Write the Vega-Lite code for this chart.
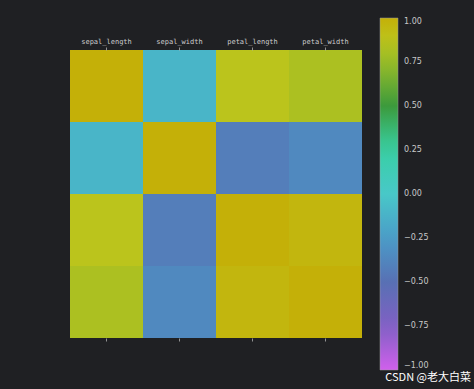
{
  "$schema": "https://vega.github.io/schema/vega-lite/v6.json",
  "width": 292,
  "height": 288,
  "autosize": {"type": "none"},
  "padding": {"left": 70, "top": 50, "right": 112, "bottom": 51},
  "background": "#1f2023",
  "config": {
    "view": {"stroke": null},
    "axis": {
      "labelFont": "DejaVu Sans Mono",
      "labelFontSize": 7,
      "labelColor": "#cccccc",
      "tickColor": "#b0b0b0",
      "tickSize": 3,
      "tickWidth": 0.8,
      "domain": false,
      "grid": false,
      "title": null,
      "labelAngle": 0,
      "labelPadding": 3
    }
  },
  "title": {
    "text": "CSDN @老大白菜",
    "orient": "bottom",
    "anchor": "end",
    "frame": "group",
    "dx": 109,
    "offset": 1,
    "baseline": "top",
    "color": "#ffffff",
    "fontSize": 11,
    "fontWeight": "normal",
    "font": "Noto Sans CJK SC"
  },
  "data": {
    "values": [
      {"row": "sepal_length", "col": "sepal_length", "value": 1.0},
      {"row": "sepal_length", "col": "sepal_width", "value": -0.109},
      {"row": "sepal_length", "col": "petal_length", "value": 0.872},
      {"row": "sepal_length", "col": "petal_width", "value": 0.818},
      {"row": "sepal_width", "col": "sepal_length", "value": -0.109},
      {"row": "sepal_width", "col": "sepal_width", "value": 1.0},
      {"row": "sepal_width", "col": "petal_length", "value": -0.421},
      {"row": "sepal_width", "col": "petal_width", "value": -0.357},
      {"row": "petal_length", "col": "sepal_length", "value": 0.872},
      {"row": "petal_length", "col": "sepal_width", "value": -0.421},
      {"row": "petal_length", "col": "petal_length", "value": 1.0},
      {"row": "petal_length", "col": "petal_width", "value": 0.963},
      {"row": "petal_width", "col": "sepal_length", "value": 0.818},
      {"row": "petal_width", "col": "sepal_width", "value": -0.357},
      {"row": "petal_width", "col": "petal_length", "value": 0.963},
      {"row": "petal_width", "col": "petal_width", "value": 1.0}
    ]
  },
  "layer": [
    {
      "mark": {"type": "rect", "strokeWidth": 0},
      "encoding": {
        "x": {
          "field": "col",
          "type": "nominal",
          "sort": ["sepal_length", "sepal_width", "petal_length", "petal_width"],
          "scale": {"paddingInner": 0, "paddingOuter": 0},
          "axis": {"orient": "top"}
        },
        "y": {
          "field": "row",
          "type": "nominal",
          "sort": ["sepal_length", "sepal_width", "petal_length", "petal_width"],
          "scale": {"paddingInner": 0, "paddingOuter": 0},
          "axis": {"orient": "left"}
        },
        "color": {
          "field": "value",
          "type": "quantitative",
          "scale": {
            "interpolate": "rgb",
            "domain": [-1, -0.75, -0.5, -0.25, 0, 0.25, 0.5, 0.75, 0.875, 1],
            "range": ["#d060ec", "#8060c4", "#5870b4", "#4a9cc8", "#48c8c8", "#38d0a4", "#3c9a3c", "#98bc28", "#bcc41c", "#c4b008"]
          },
          "legend": {
            "orient": "none",
            "legendX": 310,
            "legendY": -32,
            "direction": "vertical",
            "gradientLength": 352,
            "gradientThickness": 18,
            "gradientStrokeColor": "#9a9a9a",
            "gradientStrokeWidth": 0.5,
            "title": null,
            "values": [-1, -0.75, -0.5, -0.25, 0, 0.25, 0.5, 0.75, 1],
            "format": ".2f",
            "labelColor": "#c8c8c8",
            "labelFontSize": 8,
            "labelFont": "DejaVu Sans",
            "labelOffset": 6,
            "labelOverlap": false
          }
        }
      }
    },
    {
      "mark": {"type": "rect", "opacity": 0},
      "encoding": {
        "x": {
          "field": "col",
          "type": "nominal",
          "sort": ["sepal_length", "sepal_width", "petal_length", "petal_width"],
          "axis": {"orient": "bottom", "labels": false}
        },
        "y": {
          "field": "row",
          "type": "nominal",
          "sort": ["sepal_length", "sepal_width", "petal_length", "petal_width"],
          "axis": null
        }
      }
    }
  ],
  "resolve": {"axis": {"x": "independent"}}
}
